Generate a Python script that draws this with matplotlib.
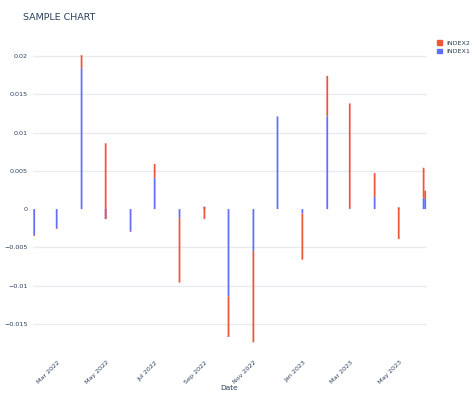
import matplotlib
matplotlib.use("Agg")
import matplotlib.pyplot as plt
from matplotlib.patches import Patch
import pandas as pd

dates = ["2022-01-31", "2022-02-28", "2022-03-31", "2022-04-30", "2022-05-31",
         "2022-06-30", "2022-07-31", "2022-08-31", "2022-09-30", "2022-10-31",
         "2022-11-30", "2022-12-31", "2023-01-31", "2023-02-28", "2023-03-31",
         "2023-04-30", "2023-05-31", "2023-06-02"]
index1 = [-0.0034, -0.0025, 0.0184, -0.0013, -0.0029, 0.0041, -0.0012, 0.0003,
          -0.0114, -0.0055, 0.0121, -0.0006, 0.0121, 0.0001, 0.0016, 0.0002,
          0.0015, 0.0013]
index2 = [-0.0001, -0.0001, 0.0017, 0.0099, -0.0001, 0.0018, -0.0084, -0.0016,
          -0.0053, -0.0119, 0.0, -0.0060, 0.0053, 0.0137, 0.0031, -0.0041,
          0.0039, 0.0011]
series_names = ["INDEX1", "INDEX2"]
x_tick_dates = ["2022-03-01", "2022-05-01", "2022-07-01", "2022-09-01", "2022-11-01",
                "2023-01-01", "2023-03-01", "2023-05-01"]
x_tick_labels = ["Mar 2022", "May 2022", "Jul 2022", "Sep 2022", "Nov 2022",
                 "Jan 2023", "Mar 2023", "May 2023"]
y_ticks = [-0.015, -0.01, -0.005, 0, 0.005, 0.01, 0.015, 0.02]
y_tick_labels = ["\u22120.015", "\u22120.01", "\u22120.005", "0", "0.005", "0.01", "0.015", "0.02"]

C1 = "#636EFA"
C2 = "#EF553B"
TXT = "#2a3f5f"
GRID = "#E9EBEF"

x = pd.to_datetime(dates)
xt = pd.to_datetime(x_tick_dates)

fig = plt.figure(figsize=(4.74, 3.95), dpi=100)
ax = fig.add_axes([33 / 474, 1 - 351.5 / 395, (426.5 - 33) / 474, (351.5 - 46) / 395])

w = 2.2
b1 = ax.bar(x, index1, width=w, color=C1, linewidth=0, zorder=3)
b2 = ax.bar(x, index2, width=w, bottom=index1, color=C2, linewidth=0, zorder=4)
for p in list(b1) + list(b2):
    p.set_snap(False)

ax.set_xlim(x[0] - pd.Timedelta(days=1.5), x[-1] + pd.Timedelta(days=1.6))
ax.set_ylim(-0.0186, 0.0213)

for v in y_ticks:
    if v != 0:
        ax.axhline(v, color=GRID, linewidth=1.0, zorder=1)

ax.set_yticks(y_ticks)
ax.set_yticklabels(y_tick_labels)
ax.set_xticks(xt)
ax.set_xticklabels(x_tick_labels, rotation=45, ha="right", va="top", rotation_mode="anchor")
ax.tick_params(axis="both", length=0, labelsize=4.6, colors=TXT)
ax.tick_params(axis="x", pad=6)
ax.tick_params(axis="y", pad=4)
for s in ax.spines.values():
    s.set_visible(False)

fig.text(23 / 474, 1 - 17 / 395, "SAMPLE CHART", fontsize=6.8, color=TXT, va="center", ha="left")
fig.text(229 / 474, 1 - 388 / 395, "Date", fontsize=5.3, color=TXT, va="center", ha="center")

handles = [Patch(color=C2, label=series_names[1]), Patch(color=C1, label=series_names[0])]
leg = fig.legend(handles=handles, loc="upper left", bbox_to_anchor=(437 / 474, 1 - 40 / 395),
                 frameon=False, fontsize=4.6, handlelength=0.75, handleheight=0.75,
                 handletextpad=0.7, labelspacing=0.5, borderpad=0, borderaxespad=0)
for t in leg.get_texts():
    t.set_color(TXT)

fig.savefig("out.png", dpi=100)
